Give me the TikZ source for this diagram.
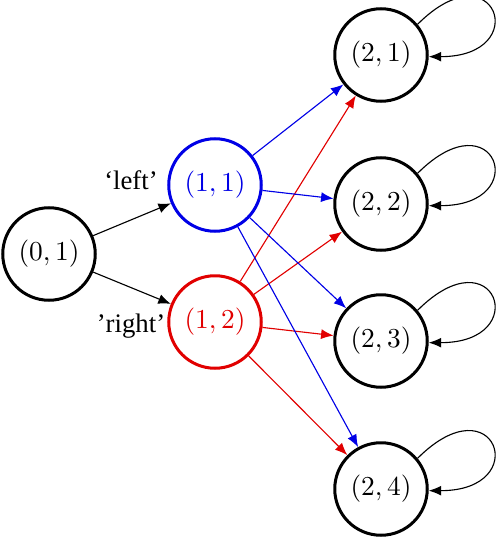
\documentclass[tikz,border=0pt]{standalone}
\usepackage{fontspec}
\setmainfont{Liberation Serif}
\usetikzlibrary{arrows.meta}
\definecolor{myblue}{RGB}{0,0,230}
\definecolor{myred}{RGB}{225,0,0}
\tikzset{
  state/.style={circle,draw,line width=1.2pt,minimum size=37pt,inner sep=0pt,font=\fontsize{11}{13}\selectfont},
  conn/.style={line width=0.45pt,-{Latex[length=5pt,width=4pt]}},
  lbl/.style={inner sep=0pt,font=\fontsize{10.7}{13}\selectfont}
}
\begin{document}
\begin{tikzpicture}[x=0.4pt,y=-0.4pt]
\useasboundingbox (0,0) rectangle (499,540);
\node[state] (s01) at (49,254) {$(0,1)$};
\node[state,draw=myblue,text=myblue] (s11) at (215,185) {$(1,1)$};
\node[state,draw=myred,text=myred] (s12) at (215,322) {$(1,2)$};
\node[state] (s21) at (381,55) {$(2,1)$};
\node[state] (s22) at (381,204) {$(2,2)$};
\node[state] (s23) at (381,341) {$(2,3)$};
\node[state] (s24) at (381,489) {$(2,4)$};
\node[lbl] (lleft) at (131,180) {‘left’};
\node[lbl] (lright) at (131,326) {’right’};
\draw[conn] (s01) -- (s11);
\draw[conn] (s01) -- (s12);
\foreach \t in {s21,s22,s23,s24}{
  \draw[conn,myblue] (s11) -- (\t);
  \draw[conn,myred] (s12) -- (\t);
}
\foreach \t in {s21,s22,s23,s24}{
  \draw[conn] (\t.40) .. controls +(-45:110) and +(0:105) .. (\t.-2);
}
\end{tikzpicture}
\end{document}
